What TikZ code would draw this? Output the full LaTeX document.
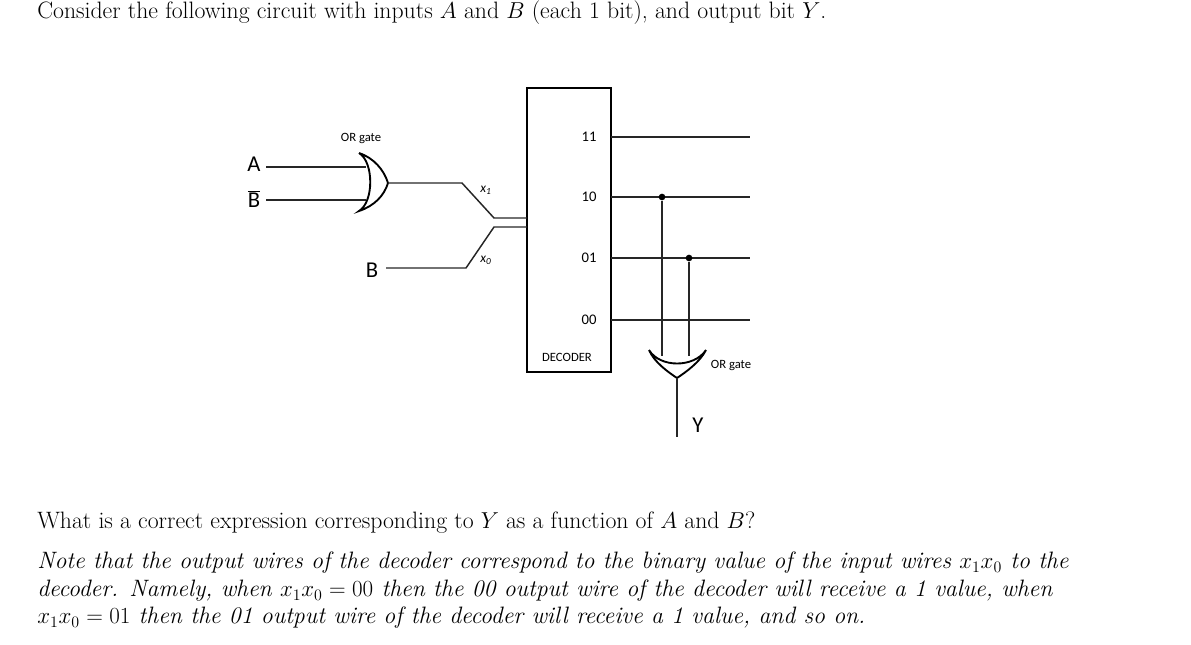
\documentclass[tikz,border=0pt]{standalone}
\usepackage{fontspec}
\setmainfont{Latin Modern Roman}
\newfontfamily\gfont{Carlito}
\begin{document}
\begin{tikzpicture}[x=0.75pt,y=-0.75pt,
  wire/.style={line width=1.1pt,black!85},
  body/.style={font=\fontsize{17.8}{21}\selectfont,anchor=west,inner sep=0},
  itbody/.style={body,font=\fontsize{17.8}{21}\selectfont\itshape},
  glab/.style={font=\gfont\fontsize{9.5}{11}\selectfont,inner sep=0},
  big/.style={font=\gfont\fontsize{17}{20}\selectfont,inner sep=0},
  dot/.style={circle,fill=black,inner sep=0,minimum size=5pt}]
\useasboundingbox (0,0) rectangle (1191,644);
\node[body] (t1) at (37,13) {Consider the following circuit with inputs $A$ and $B$ (each 1 bit), and output bit $Y$.};
% decoder
\node[draw,line width=1.1pt,minimum width=63pt,minimum height=213pt,inner sep=0] (dec) at (569,230) {};
\node[glab] (dl) at (567,357) {DECODER};
\foreach \y/\t in {137/11,197/10,258/01,320/00}{
  \node[glab,font=\gfont\fontsize{11}{12}\selectfont] (d\t) at (589,\y) {\t};
  \coordinate (o\t) at (611,\y); \coordinate (e\t) at (750,\y);
  \draw[wire] (o\t) -- (e\t);}
% left OR gate
\node[big] (A) at (254,164) {A};
\node[big] (Bb) at (254,199) {$\overline{\mbox{B}}$};
\coordinate (ga) at (366,167); \coordinate (gb) at (366,200);
\draw[wire] (266,167) -- (ga); \draw[wire] (266,200) -- (gb);
\coordinate (g1) at (388,183);
\draw[line width=1.4pt] (359,153) .. controls (374,162) and (374,202) .. (359,211)
  .. controls (374,206) and (384,196) .. (g1) .. controls (384,170) and (374,158) .. (359,153);
\node[glab] (orl) at (361,138) {OR gate};
\coordinate (x1a) at (462,183); \coordinate (x1b) at (494,218); \coordinate (x1c) at (527,218);
\draw[wire] (g1) -- (x1a) -- (x1b) -- (x1c);
\node[big] (B) at (372,270) {B};
\coordinate (x0s) at (386,268); \coordinate (x0a) at (466,268); \coordinate (x0b) at (494,227); \coordinate (x0c) at (527,227);
\draw[wire] (x0s) -- (x0a) -- (x0b) -- (x0c);
\node[glab,font=\gfont\itshape\fontsize{10}{12}\selectfont] (lx1) at (486,190) {x\textsubscript{1}};
\node[glab,font=\gfont\itshape\fontsize{10}{12}\selectfont] (lx0) at (486,260) {x\textsubscript{0}};
% right
\node[dot] (p1) at (662,197) {};
\node[dot] (p2) at (689,258) {};
\coordinate (q1) at (662,356); \coordinate (q2) at (689,356);
\draw[wire] (p1) -- (q1); \draw[wire] (p2) -- (q2);
\coordinate (gt) at (677,378);
\draw[line width=1.4pt] (649,350) .. controls (660,368) and (694,368) .. (706,350)
  .. controls (700,362) and (686,372) .. (gt) .. controls (668,372) and (654,362) .. (649,350);
\coordinate (yend) at (677,437);
\draw[wire] (gt) -- (yend);
\node[big] (Y) at (698,425) {Y};
\node[glab] (orl2) at (731,365) {OR gate};
% bottom text
\node[body] (t2) at (37,523) {What is a correct expression corresponding to $Y$ as a function of $A$ and $B$?};
\node[itbody] (t3) at (37,563) {Note that the output wires of the decoder correspond to the binary value of the input wires $x_1x_0$ to the};
\node[itbody] (t4) at (37,591) {decoder. Namely, when $x_1x_0=00$ then the 00 output wire of the decoder will receive a 1 value, when};
\node[itbody] (t5) at (37,618) {$x_1x_0=01$ then the 01 output wire of the decoder will receive a 1 value, and so on.};
\end{tikzpicture}
\end{document}
